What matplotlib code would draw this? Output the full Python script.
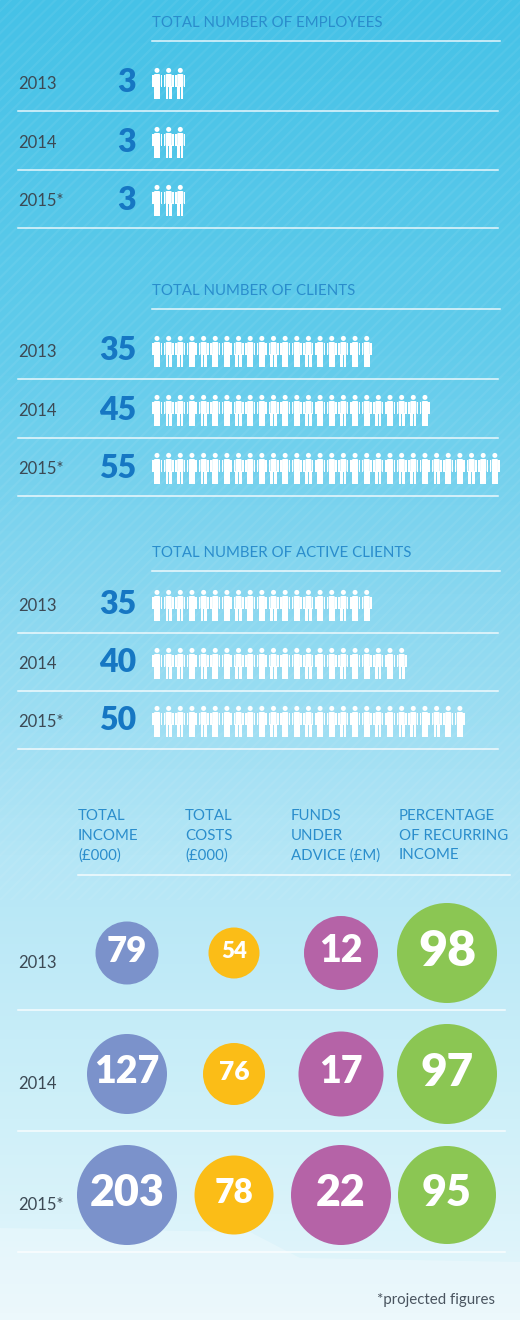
import numpy as np
import matplotlib.pyplot as plt
from matplotlib.patches import Circle, Rectangle, FancyBboxPatch
from matplotlib.colors import LinearSegmentedColormap

plt.rcParams['font.family'] = ['Lato', 'DejaVu Sans']
plt.rcParams['hatch.linewidth'] = 1.6

years = ['2013', '2014', '2015*']

employees = [3, 3, 3]
employee_icons = [3, 3, 3]
clients = [35, 45, 55]
client_icons = [19, 24, 30]
active_clients = [35, 40, 50]
active_icons = [19, 22, 27]

section_titles = ['TOTAL NUMBER OF EMPLOYEES', 'TOTAL NUMBER OF CLIENTS',
                  'TOTAL NUMBER OF ACTIVE CLIENTS']

money_headers = ['TOTAL\nINCOME\n(£000)', 'TOTAL\nCOSTS\n(£000)',
                 'FUNDS\nUNDER\nADVICE (£M)', 'PERCENTAGE\nOF RECURRING\nINCOME']
total_income = [79, 127, 203]
total_costs = [54, 76, 78]
funds_advice = [12, 17, 22]
recurring_pct = [98, 97, 95]

# ---- styling ----
W, H = 520, 1320
blue_num = '#1677c3'
head_blue = '#2a8dcc'
grey = '#3c4954'
bubble_cols = ['#7b92cb', '#fbbd17', '#b563a7', '#8bc653']
bubble_r = [[31.5, 40, 50], [25.5, 31, 39.5], [37, 42.5, 50], [50, 50, 49]]
bubble_fs = [[25, 27, 31], [16, 19, 24], [27, 27, 31], [36, 33, 31]]
col_x = [127, 234, 341, 447]
row_y = [953, 1074, 1195]

fig = plt.figure(figsize=(W / 100, H / 100), dpi=100)
ax = fig.add_axes([0, 0, 1, 1])
ax.set_xlim(0, W)
ax.set_ylim(H, 0)
ax.axis('off')

# background gradient
bg = LinearSegmentedColormap.from_list('bg', [
    (0.0, '#45c2e7'), (0.25, '#5fcbeb'), (0.45, '#88d7f0'),
    (0.65, '#b4e6f6'), (0.85, '#cff0f9'), (1.0, '#e6f6fb')])
grad = np.linspace(0, 1, 400).reshape(-1, 1)
ax.imshow(grad, cmap=bg, extent=[0, W, H, 0], aspect='auto', zorder=0)
# diagonal stripes
ax.add_patch(Rectangle((0, 0), W, 900, fill=False, hatch='///',
                       edgecolor=(1, 1, 1, 0.06), linewidth=0, zorder=1))
# soft lighter area at the bottom
ax.fill_between([0, 250, 300, W], [1228, 1232, 1258, 1262], H,
                color='white', alpha=0.25, lw=0, zorder=1)


def person(x0, top, h=31, w=10, color='white'):
    s = h / 31.0
    ax.add_patch(Circle((x0 + w / 2, top + 2.4 * s), 2.5 * s, color=color, lw=0, zorder=3))
    ax.add_patch(FancyBboxPatch((x0 + 1.9, top + 6 * s), w - 3.8, 13 * s,
                                boxstyle='round,pad=0,rounding_size=1.2',
                                color=color, lw=0, zorder=3))
    ax.add_patch(Rectangle((x0, top + 6.6 * s), 1.5, 12 * s, color=color, lw=0, zorder=3))
    ax.add_patch(Rectangle((x0 + w - 1.5, top + 6.6 * s), 1.5, 12 * s, color=color, lw=0, zorder=3))
    ax.add_patch(Rectangle((x0 + 1.9, top + 18 * s), 2.9, 13 * s, color=color, lw=0, zorder=3))
    ax.add_patch(Rectangle((x0 + w - 4.8, top + 18 * s), 2.9, 13 * s, color=color, lw=0, zorder=3))


def sep(y, x0=18, x1=498):
    ax.plot([x0, x1], [y, y], color='white', lw=1.1, alpha=0.85, zorder=2)


sections = [
    (employees, employee_icons, 23, [84, 143, 201]),
    (clients, client_icons, 291, [352, 411, 469]),
    (active_clients, active_icons, 553, [606, 664, 722]),
]
pitch = 11.65
for (vals, icons, ty, rows), title in zip(sections, section_titles):
    ax.text(152, ty, title, fontsize=10.8, color=head_blue, va='center', ha='left')
    sep(ty + 18, 152, 500)
    for yr, v, n, y in zip(years, vals, icons, rows):
        ax.text(18, y, yr, fontsize=12, color=grey, va='center', ha='left')
        ax.text(136, y - 1, str(v), fontsize=23, color=blue_num, fontweight='heavy',
                va='center', ha='right')
        for i in range(n):
            person(152 + i * pitch, y - 16)
        sep(y + 27)

# money section
for hdr, x in zip(money_headers, [78, 185, 291, 399]):
    ax.text(x, 809, hdr, fontsize=10.8, color=head_blue, va='top', ha='left',
            linespacing=1.5)
sep(875, 78, 510)

series = [total_income, total_costs, funds_advice, recurring_pct]
for r, (yr, y) in enumerate(zip(years, row_y)):
    ax.text(18, y + 10, yr, fontsize=12, color=grey, va='center', ha='left')
    for c, vals in enumerate(series):
        ax.add_patch(Circle((col_x[c], y), bubble_r[c][r], color=bubble_cols[c],
                            lw=0, zorder=3))
        ax.text(col_x[c], y - 2, str(vals[r]), fontsize=bubble_fs[c][r], color='white',
                fontweight='heavy', ha='center', va='center', zorder=4)
    sep(y + 57, 18, 505)

ax.text(495, 1300, '*projected figures', fontsize=10.8, color='#4a5560',
        ha='right', va='center')

fig.savefig('out.png', dpi=100)
